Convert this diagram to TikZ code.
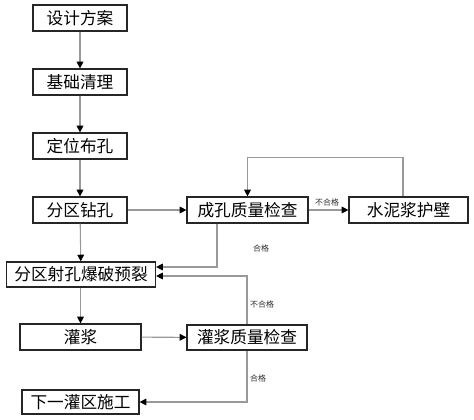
\documentclass[tikz,border=0pt]{standalone}
\usepackage{fontspec}
\newfontfamily\cjk{Noto Sans CJK SC}
\usetikzlibrary{arrows.meta,calc}
\begin{document}
\begin{tikzpicture}[x=0.75pt,y=-0.75pt,
  box/.style={draw=black!85, line width=0.9pt, fill=white, inner sep=0pt,
    minimum height={26*0.75pt}, font=\cjk\fontsize{12.5}{14}\selectfont},
  conn/.style={draw=black!40, line width=0.8pt, -{Triangle[length=5pt,width=5pt,color=black]}},
  plain/.style={draw=black!40, line width=0.8pt},
  lbl/.style={font=\cjk\fontsize{6}{7}\selectfont, text=black!80, inner sep=0pt}]
\useasboundingbox (0,0) rectangle (474,420);
\fill[white] (0,0) rectangle (474,420);

\node[box, minimum width={94*0.75pt}] (a) at (80,18) {设计方案};
\node[box, minimum width={94*0.75pt}] (b) at (80,82) {基础清理};
\node[box, minimum width={94*0.75pt}] (c) at (80,146) {定位布孔};
\node[box, minimum width={94*0.75pt}] (d) at (80,210) {分区钻孔};
\node[box, minimum width={121*0.75pt}] (e) at (247.5,210) {成孔质量检查};
\node[box, minimum width={119*0.75pt}] (f) at (408.5,210) {水泥浆护壁};
\node[box, minimum width={149*0.75pt}, minimum height={25*0.75pt}] (g) at (81,274.5) {分区射孔爆破预裂};
\node[box, minimum width={121*0.75pt}] (h) at (80.5,337) {灌浆};
\node[box, minimum width={120*0.75pt}, minimum height={25*0.75pt}] (i) at (247,337.5) {灌浆质量检查};
\node[box, minimum width={117*0.75pt}, minimum height={24*0.75pt}] (j) at (80.5,402) {下一灌区施工};

\draw[conn] (a) -- (b);
\draw[conn] (b) -- (c);
\draw[conn] (c) -- (d);
\draw[conn] (d) -- (e);
\draw[conn] (e) -- (f);
\node[lbl] (l1) at (327,202) {不合格};
\draw[conn] ($(f.north)+(-5.5,0)$) -- ++(0,-39) -| (e.north);
\draw[conn] ($(e.south)+(-30.5,0)$) |- ($(g.east)+(0,-7.5)$);
\node[lbl] (l2) at (261,248) {合格};
\draw[conn] (d) -- (g);
\draw[conn] (i.north) |- ($(g.east)+(0,1.5)$);
\node[lbl] (l3) at (262,304) {不合格};
\draw[conn] (g.south -| h.north) -- (h.north);
\draw[conn] (h) -- (i);
\draw[conn] (i.south) |- (j.east);
\node[lbl] (l4) at (258,378) {合格};
\end{tikzpicture}
\end{document}
